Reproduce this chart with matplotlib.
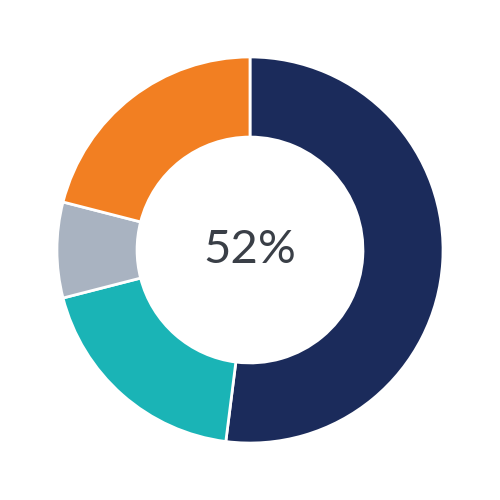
import matplotlib.pyplot as plt

# segment shares, clockwise from the top
labels = ['Navy', 'Teal', 'Gray', 'Orange']
shares = [52, 19, 8, 21]
colors = ['#1b2b5b', '#1ab4b6', '#a9b3c1', '#f27f22']
center_label = '52%'

fig = plt.figure(figsize=(5, 5), dpi=100)
ax = fig.add_axes([0, 0, 1, 1])
ax.pie(shares, colors=colors, startangle=90, counterclock=False,
       radius=1.0,
       wedgeprops=dict(width=0.415, edgecolor='white', linewidth=2))
ax.text(0, 0, center_label, ha='center', va='center', fontsize=34,
        family='Lato', color='#3a3f47')
ax.set_xlim(-1.295, 1.295)
ax.set_ylim(-1.295, 1.295)
ax.set_aspect('equal')
ax.axis('off')

plt.savefig('out.png', dpi=100, facecolor='white')
